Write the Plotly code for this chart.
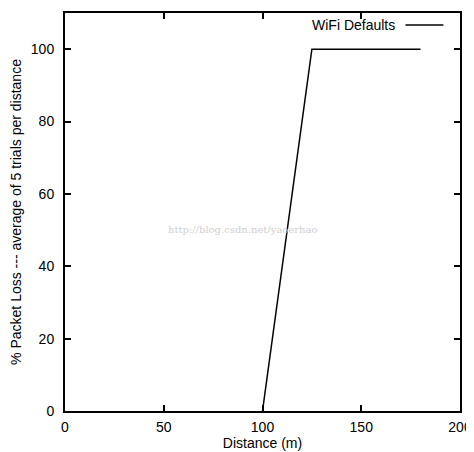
import plotly.graph_objects as go

distance = [100, 125, 150, 180]
packet_loss = [0, 100, 100, 100]
series_name = "WiFi Defaults"
x_ticks = [0, 50, 100, 150, 200]
y_ticks = [0, 20, 40, 60, 80, 100]

FONT = "Liberation Sans, Arial, Helvetica, sans-serif"

fig = go.Figure()
fig.add_trace(go.Scatter(x=distance, y=packet_loss, mode="lines",
                         line=dict(color="black", width=1.5),
                         name=series_name, showlegend=False))

axis_common = dict(showline=True, linecolor="black", linewidth=2, mirror="ticks",
                   ticks="inside", ticklen=6, tickwidth=1.5, tickcolor="black",
                   showgrid=False, zeroline=False, automargin=False,
                   tickfont=dict(family=FONT, size=14, color="black"))

fig.update_xaxes(range=[0, 200], tickvals=x_ticks, ticklabelstandoff=2,
                 title=dict(text="Distance (m)", font=dict(family=FONT, size=14, color="black"), standoff=2),
                 **axis_common)
fig.update_yaxes(range=[0, 110], tickvals=y_ticks, ticklabelstandoff=6,
                 title=dict(text="% Packet Loss --- average of 5 trials per distance",
                            font=dict(family=FONT, size=14, color="black"), standoff=13),
                 **axis_common)

# gnuplot-style key: text then line sample
fig.add_annotation(x=0.84, y=0.97, xref="paper", yref="paper", text=series_name,
                   showarrow=False, xanchor="right", yanchor="middle",
                   font=dict(family=FONT, size=14, color="black"))
fig.add_shape(type="line", xref="paper", yref="paper", x0=0.862, x1=0.958, y0=0.97, y1=0.97,
              line=dict(color="black", width=1.5))

# watermark
fig.add_annotation(x=0.45, y=0.455, xref="paper", yref="paper", text="http://blog.csdn.net/yaoerhao",
                   showarrow=False, font=dict(family="DejaVu Serif, serif", size=10, color="#d0d0d0"))

# page body has an 8px default margin, so the figure is sized to fit the window
fig.update_layout(width=466, height=444, margin=dict(l=57, r=14, t=5, b=41),
                  plot_bgcolor="white", paper_bgcolor="white", showlegend=False)

fig.write_html("out.html")
